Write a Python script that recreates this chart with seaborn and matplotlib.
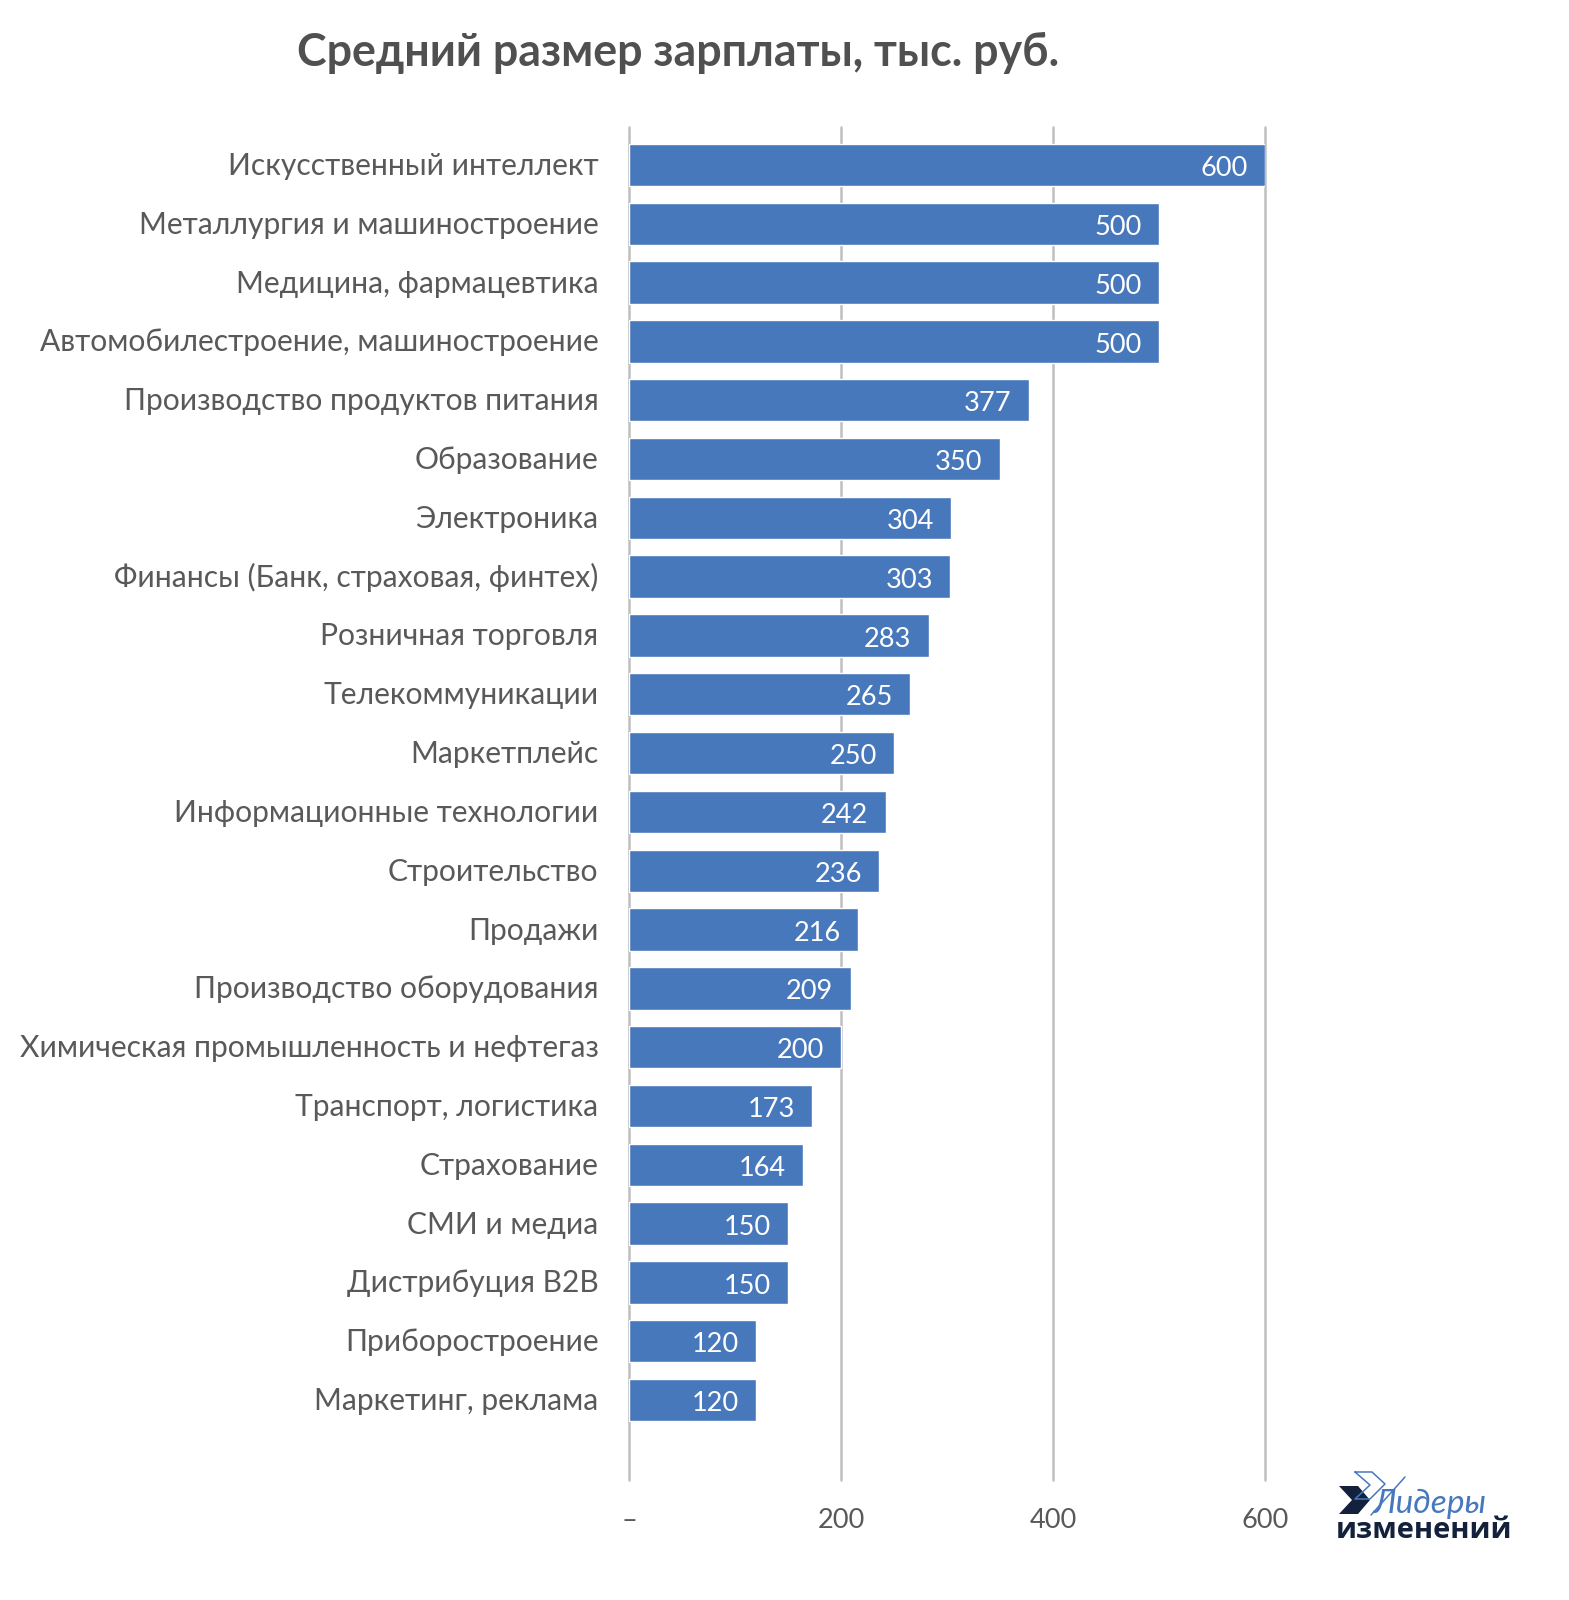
import matplotlib
matplotlib.use("Agg")
import matplotlib.pyplot as plt
import matplotlib.transforms as mtrans
import seaborn as sns
import pandas as pd
from matplotlib.patches import Polygon
from matplotlib.lines import Line2D

categories = ["Искусственный интеллект", "Металлургия и машиностроение", "Медицина, фармацевтика",
              "Автомобилестроение, машиностроение", "Производство продуктов питания", "Образование",
              "Электроника", "Финансы (Банк, страховая, финтех)", "Розничная торговля", "Телекоммуникации",
              "Маркетплейс", "Информационные технологии", "Строительство", "Продажи",
              "Производство оборудования", "Химическая промышленность и нефтегаз", "Транспорт, логистика",
              "Страхование", "СМИ и медиа", "Дистрибуция B2B", "Приборостроение", "Маркетинг, реклама"]
values = [600, 500, 500, 500, 377, 350, 304, 303, 283, 265, 250, 242, 236, 216, 209, 200, 173, 164, 150, 150, 120, 120]
xticks = [0, 200, 400, 600]
xticklabels = ["–", "200", "400", "600"]
title = "Средний размер зарплаты, тыс. руб."

sns.set_theme(style="white")
FONT = ['Lato', 'DejaVu Sans']
plt.rcParams['font.family'] = FONT
W, H = 1569, 1600
fig = plt.figure(figsize=(W/100, H/100), dpi=100, facecolor="white")
ax_l, ax_r, ax_t, ax_b = 629, 1265, 127, 1480
ax = fig.add_axes([ax_l/W, 1-ax_b/H, (ax_r-ax_l)/W, (ax_b-ax_t)/H])
df = pd.DataFrame({"cat": categories, "val": values})
sns.barplot(data=df, x="val", y="cat", color="#4878BC", saturation=1, width=0.72, ax=ax, zorder=3)
ax.set_xlim(0, 600)
ax.set_ylim(22.36, -0.646)
ax.set_xlabel(""); ax.set_ylabel("")
for s in ax.spines.values():
    s.set_visible(False)
ax.set_xticks(xticks, xticklabels)
ax.grid(axis="x", color="#BFBFBF", lw=1.8, zorder=1)
ax.grid(axis="y", visible=False)
for gl in ax.get_xgridlines():
    gl.set_clip_on(False)
ax.tick_params(axis="x", length=0, pad=20, labelsize=19.5, labelcolor="#595959")
ax.tick_params(axis="y", length=0, pad=22, labelsize=21.6, labelcolor="#595959")
shift = mtrans.ScaledTranslation(0, 1.5/100, fig.dpi_scale_trans)
for t in ax.get_yticklabels():
    t.set_transform(t.get_transform() + shift)
for i, v in enumerate(values):
    ax.annotate(str(v), (v, i), xytext=(-12.5, -2.6), textcoords="offset points", ha="right", va="center",
                color="white", fontsize=19.5, zorder=4)
fig.text(297/W, 1-53/H, title, fontsize=32.2, fontweight="bold", color="#505050", ha="left", va="center")

# logo
def px(pts):
    return [(x/W, 1-y/H) for x, y in pts]
fig.add_artist(Polygon(px([(1339,1486),(1358,1486),(1370,1500),(1358,1514),(1339,1514),(1352,1500)]), closed=True, fc="#14213D", ec="none"))
fig.add_artist(Line2D(*zip(*px([(1355,1472),(1372,1472),(1385,1484),(1370,1499),(1355,1499),(1370,1485),(1355,1472)])), color="#4878BC", lw=1.1))
fig.add_artist(Line2D(*zip(*px([(1405,1477),(1371,1515)])), color="#4878BC", lw=1.1))
fig.text(1373/W, 1-1504/H, "Лидеры", fontsize=24, style="italic", color="#4878BC", va="center", ha="left")
fig.text(1336/W, 1-1531/H, "изменений", fontsize=21, fontweight="bold", color="#14213D", family="Open Sans", va="center", ha="left")
fig.savefig("out.png", dpi=100)
